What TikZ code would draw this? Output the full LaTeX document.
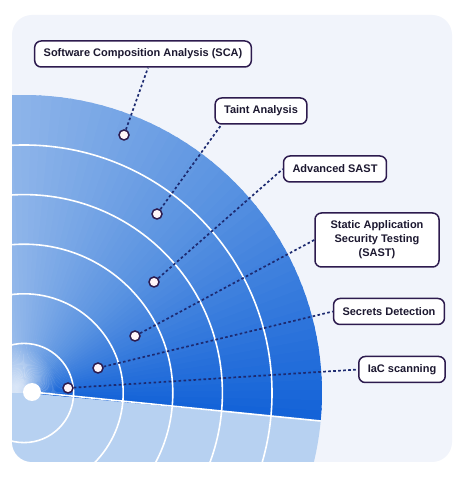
\documentclass[tikz,border=0pt]{standalone}
\usepackage{fontspec}
\setmainfont{Liberation Sans}
\usetikzlibrary{fadings}
\definecolor{bgc}{HTML}{F1F4FB}
\definecolor{cA}{HTML}{1463D8}
\definecolor{cB}{HTML}{5A93E1}
\definecolor{cC}{HTML}{98BBEB}
\definecolor{cD}{HTML}{A8C6EE}
\definecolor{lightreg}{HTML}{B7D1F1}
\definecolor{boxline}{HTML}{2D1B4E}
\definecolor{txt}{HTML}{1C1830}
\definecolor{conn}{HTML}{1D2A70}
\definecolor{pinfill}{HTML}{FFF6F9}
\tikzfading[name=glowfade, inner color=transparent!0, outer color=transparent!100]
\begin{document}
\begin{tikzpicture}[x=1pt,y=1pt,
  lbl/.style={draw=boxline, line width=1.5pt, fill=white, rounded corners=6.5pt, inner xsep=9pt, minimum height=26pt, font=\fontsize{11}{14}\selectfont\bfseries, text=txt, align=center},
  pin/.style={circle, draw=boxline, line width=1.5pt, fill=pinfill, minimum size=10pt, inner sep=0pt},
  conline/.style={draw=conn, line width=1.7pt, dash pattern=on 2.6pt off 2.4pt},
  ring/.style={draw=white, line width=1.6pt}]
\useasboundingbox (0,0) rectangle (474,478);
\fill[white] (0,0) rectangle (474,478);
\fill[bgc, rounded corners=20pt] (12,16) rectangle (452,463);
\coordinate (C) at (24,85);
\coordinate (E) at (320.7,57);
\begin{scope}
\clip[rounded corners=20pt] (12,16) rectangle (452,463);
\foreach \a in {-5.4,-3.4,...,179} {
  \pgfmathsetmacro\pA{max(0,min(100,(\a+5.4)/50.4*100))}
  \pgfmathsetmacro\pB{100-max(0,min(100,(\a-45)/55*100))}
  \pgfmathsetmacro\pC{100-max(0,min(100,(\a-100)/80*100))}
  \fill[fill={cB!\pA!cA!\pB!cC!\pC!cD}] (C) -- ++(\a:298) arc[start angle=\a, delta angle=2.5, radius=298] -- cycle;
}
\fill[lightreg] (C) -- ++(180:298) arc[start angle=180, end angle=354.6, radius=298] -- cycle;
\begin{scope}
\clip (C) -- ++(-5.4:298) arc[start angle=-5.4, end angle=180, radius=298] -- cycle;
\fill[white, path fading=glowfade, fill opacity=0.6] (16,92) circle (40);
\end{scope}
\foreach \r in {49.6,99.2,148.8,198.4,248} \draw[ring] (C) circle (\r);
\node[circle, fill=white, minimum size=18pt, inner sep=0pt] (hub) at (32,86) {};
\draw[ring] (hub.center) -- (E);
\end{scope}

\node[lbl] (sca) at (143,424) {Software Composition Analysis (SCA)};
\node[lbl] (taint) at (261,367) {Taint Analysis};
\node[lbl] (adv) at (335,309) {Advanced SAST};
\node[lbl, minimum width=124pt, minimum height=54pt] (sast) at (377,238) {Static Application\\Security Testing\\(SAST)};
\node[lbl] (sec) at (389,166.5) {Secrets Detection};
\node[lbl] (iac) at (402,108.5) {IaC scanning};

\node[pin] (d1) at (124,343) {};
\node[pin] (d2) at (157,264) {};
\node[pin] (d3) at (154,196) {};
\node[pin] (d4) at (135,142) {};
\node[pin] (d5) at (98,110) {};
\node[pin] (d6) at (68,90) {};

\draw[conline] (d1) -- ([xshift=5pt]sca.south);
\draw[conline] (d2) -- ([xshift=7pt]taint.south west);
\draw[conline] (d3) -- (adv.west);
\draw[conline] (d4) -- (sast.west);
\draw[conline] (d5) -- (sec.west);
\draw[conline] (d6) -- (iac.west);
\end{tikzpicture}
\end{document}
